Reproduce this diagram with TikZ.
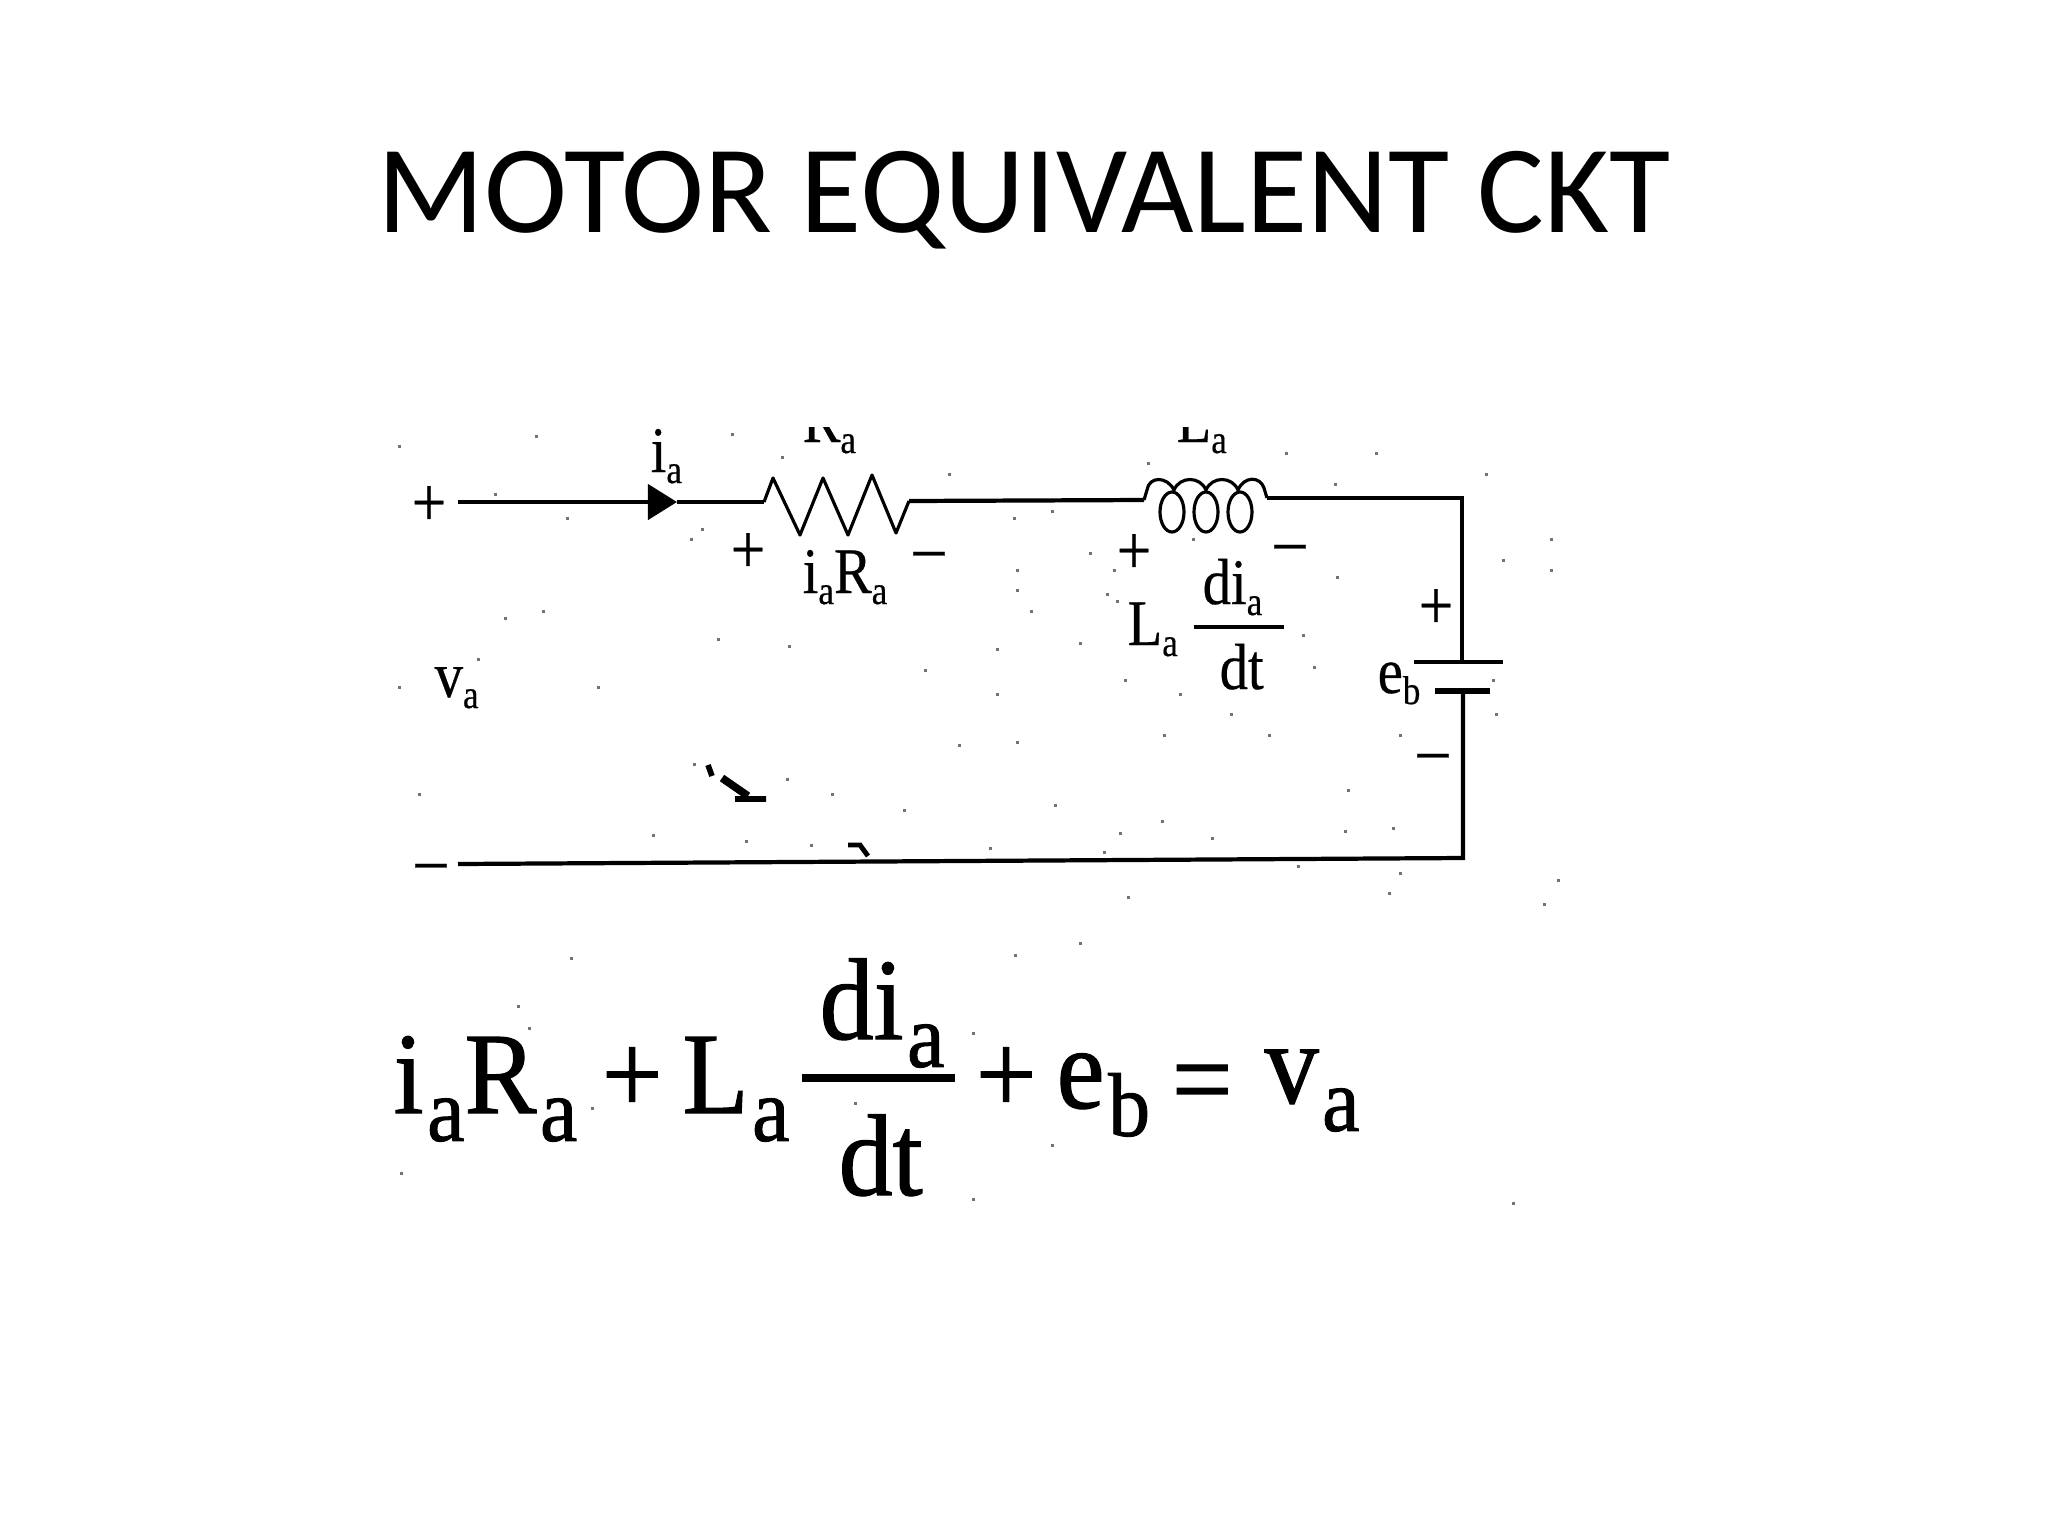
\documentclass[tikz,border=0pt]{standalone}
\usepackage{fontspec}
\setmainfont{Carlito}
\newfontfamily\scanfont[FakeStretch=0.87,FakeBold=0.4]{Liberation Serif}
\newfontfamily\eqnfont[FakeStretch=0.93,FakeBold=1.0]{Liberation Serif}
\usetikzlibrary{arrows.meta}
\newcommand{\lowtxt}[1]{\raisebox{-0.17em}{\scalebox{0.62}{#1}}}
\newcommand{\loweq}[1]{\kern0.03em\raisebox{-0.24em}{\scalebox{0.78}{#1}}}
\tikzstyle{title} = [anchor=base west, inner sep=0pt, font=\fontsize{35.6}{40}\selectfont]
\tikzstyle{label} = [anchor=base west, inner sep=0pt, font=\scanfont\fontsize{18.5}{20}\selectfont]
\tikzstyle{sign} = [inner sep=0pt, yshift=-0.06cm, font=\scanfont\fontsize{20}{20}\selectfont]
\tikzstyle{eqn} = [anchor=base west, inner sep=0pt, font=\eqnfont\fontsize{33}{36}\selectfont]
\tikzstyle{wire} = [draw, line width=1.2pt]
\tikzstyle{thin_wire} = [draw, line width=0.9pt, line join=round]
\tikzstyle{speck} = [fill=black!55]

\begin{document}
\begin{tikzpicture}[x=0.01cm, y=-0.01cm]
    \useasboundingbox (0,0) rectangle (2048,1536);

    \node [title] (title) at (377,232) {MOTOR EQUIVALENT CKT};

    % Place wire ends
    \coordinate (in_top) at (458,502);
    \coordinate (arrow_tip) at (677,502);
    \coordinate (res_left) at (764,502);
    \coordinate (res_right) at (909,501);
    \coordinate (ind_left) at (1144,500);
    \coordinate (ind_right) at (1267,498);
    \coordinate (corner_top) at (1462,498);
    \coordinate (plate_top) at (1462,662);
    \coordinate (plate_low) at (1463,691);
    \coordinate (corner_low) at (1463,858);
    \coordinate (in_low) at (458,864);

    \path [wire, -{Triangle[length=0.29cm,width=0.35cm]}] (in_top) -- (arrow_tip);
    \path [wire] (arrow_tip) -- (res_left);
    \path [thin_wire] (res_left) -- (773,478) -- (800,535) -- (823,478) -- (848,535)
        -- (872,475) -- (896,533) -- (res_right);
    \path [wire] (res_right) -- (ind_left);
    \path [thin_wire] (ind_left) -- (1147,490) .. controls (1149,476) and (1167,476) .. (1174,490)
        .. controls (1180,476) and (1200,476) .. (1206,490)
        .. controls (1212,476) and (1232,476) .. (1238,490)
        .. controls (1244,476) and (1260,476) .. (1264,488) -- (ind_right);
    \path [thin_wire] (1172,512) ellipse (12 and 20);
    \path [thin_wire] (1206,512) ellipse (12 and 20);
    \path [thin_wire] (1240,512) ellipse (12 and 20);
    \path [wire] (ind_right) -- (corner_top) -- (plate_top);
    \path [wire] (plate_low) -- (corner_low) -- (in_low);

    % Battery plates
    \path [wire] (1414,662) -- (1503,662);
    \path [wire, line width=1.5pt] (1435,691) -- (1490,691);

    % Clipped labels
    \begin{scope}
        \clip (780,427) rectangle (1250,470);
        \node [label] (r_top) at (802,442) {R\lowtxt{a}};
        \node [label] (l_top) at (1176,442) {L\lowtxt{a}};
    \end{scope}

    % Place labels
    \node [sign] (plus_in) at (429,500) {+};
    \node [sign] (minus_in) at (431,867) {–};
    \node [label] (i_top) at (650,472) {i\lowtxt{a}};
    \node [sign] (plus_res) at (748,547) {+};
    \node [sign] (minus_res) at (929,555) {–};
    \node [label] (i_r) at (802,593) {i\lowtxt{a}R\lowtxt{a}};
    \node [label] (v_a) at (434,697) {v\lowtxt{a}};
    \node [sign] (plus_ind) at (1134,548) {+};
    \node [sign] (minus_ind) at (1290,548) {–};
    \node [label] (l_low) at (1127,645) {L\lowtxt{a}};
    \node [label] (di_top) at (1202,604) {di\lowtxt{a}};
    \node [label] (dt_low) at (1219,689) {dt};
    \path [wire] (1194,627) -- (1284,627);
    \node [sign] (plus_bat) at (1436,603) {+};
    \node [label] (e_b) at (1377,693) {e\lowtxt{b}};
    \node [sign] (minus_bat) at (1433,757) {–};

    % Equation
    \node [eqn] (eq_ir) at (393,1113) {i\loweq{a}R\loweq{a}};
    \node [eqn] (eq_plus_a) at (601,1113) {+};
    \node [eqn] (eq_l) at (682,1113) {L\loweq{a}};
    \node [eqn] (eq_di) at (819,1039) {di\loweq{a}};
    \path [draw, line width=2pt] (802,1078) -- (955,1078);
    \node [eqn] (eq_dt) at (838,1195) {dt};
    \node [eqn] (eq_plus_b) at (975,1113) {+};
    \node [eqn] (eq_e) at (1056,1108) {e\loweq{b}};
    \node [eqn] (eq_is) at (1171,1118) {=};
    \node [eqn] (eq_v) at (1264,1103) {v\loweq{a}};

    % Scan scraps
    \path [draw, line width=1.6pt] (708,765) -- (712,776) (735,799) -- (766,799);
    \path [draw, line width=2.2pt] (722,778) -- (748,796);
    \path [draw, line width=1.4pt] (848,845) -- (860,845) -- (868,856);

    \foreach \x/\y in {398/445, 535/435, 731/433, 781/456, 948/473, 494/493, 566/517, 701/528,
        690/538, 1013/517, 1051/510, 1016/569, 1016/589, 1030/610, 504/617, 542/610, 717/638,
        788/645, 996/648, 1079/642, 477/658, 398/686, 597/686, 924/669, 996/693, 958/744,
        1016/741, 693/763, 786/778, 418/793, 831/793, 903/809, 1054/804, 652/834, 745/840,
        810/844, 989/847, 1285/452, 1375/452, 1485/473, 1147/462, 1334/483, 1550/538, 1502/559,
        1550/569, 1192/538, 1089/552, 1113/569, 1336/576, 1106/593, 1116/600, 1302/634, 1313/666,
        1124/679, 1179/693, 1492/679, 1495/713, 1230/713, 1163/734, 1268/734, 1399/734, 1347/789,
        1161/820, 1344/830, 1392/827, 1119/832, 1211/837, 1103/851, 1297/865, 1399/872, 1557/879,
        1388/892, 1127/896, 1543/903, 570/957, 1014/954, 1079/942, 517/1005, 528/1027, 972/1032,
        591/1107, 854/1102, 1051/1144, 400/1172, 972/1198, 1512/1202}
        \path [speck] (\x,\y) rectangle +(3,3);

\end{tikzpicture}
\end{document}
